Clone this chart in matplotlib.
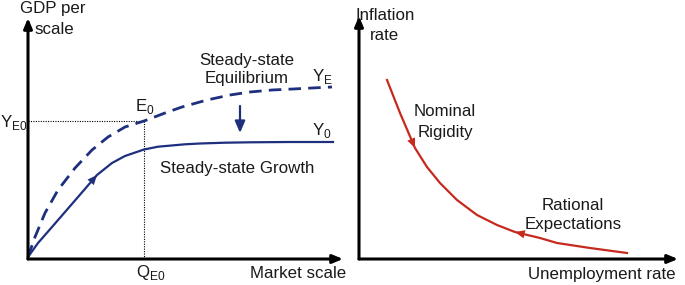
import matplotlib.pyplot as plt

# schematic, in pixel units (x right, y down)
# left panel: steady-state equilibrium (dashed) and growth (solid)
ye_x = [28, 35, 45, 58, 75, 92, 108, 125, 144, 165, 182, 207, 230, 250, 272, 293, 312, 332]
ye_y = [257, 237, 213, 190, 168, 150, 137, 127, 121, 113, 107, 100, 95, 92, 90, 89, 88, 87]
y0_x = [28, 38, 52, 65, 78, 97, 112, 125, 144, 158, 185, 200, 225, 250, 290, 333]
y0_y = [257, 243, 227, 212, 197, 175, 163, 156, 149.5, 146.7, 144.3, 143.5, 142.7, 142.3, 142, 142]
e0 = (144, 121)

# right panel: Phillips-type curve
pc_x = [387, 400, 415, 427, 440, 457, 477, 497, 515, 540, 557, 590, 627]
pc_y = [80, 113, 148, 167, 183, 200, 215, 225, 232, 238, 243, 248, 253]

blue = "#1e2f7e"
red = "#c62a1f"
fs = 12.2
font = "Liberation Sans"

fig = plt.figure(figsize=(6.85, 2.85), dpi=100)
ax = fig.add_axes([0, 0, 1, 1])
ax.set_xlim(0, 685)
ax.set_ylim(285, 0)
ax.axis("off")

def axis_arrow(x0, y0, x1, y1):
    ax.annotate("", xy=(x1, y1), xytext=(x0, y0),
                arrowprops=dict(arrowstyle="-|>,head_length=0.6,head_width=0.25",
                                color="black", lw=2.2, shrinkA=0, shrinkB=0))

def curve_arrow(xs, ys, i, color, back=False):
    # small head placed on the curve at point i
    if back:
        a, b = (xs[i + 1], ys[i + 1]), (xs[i], ys[i])
    else:
        a, b = (xs[i - 1], ys[i - 1]), (xs[i], ys[i])
    ax.annotate("", xy=b, xytext=a,
                arrowprops=dict(arrowstyle="-|>,head_length=0.7,head_width=0.3",
                                color=color, lw=0, shrinkA=0, shrinkB=0))

# left panel axes
axis_arrow(28, 259, 343, 259)
axis_arrow(28, 259, 28, 18)
# right panel axes
axis_arrow(359, 259, 678, 259)
axis_arrow(359, 259, 359, 16)

# dotted guides to E0
ax.plot([28, e0[0]], [e0[1], e0[1]], color="black", lw=0.8, ls=(0, (1, 1.2)))
ax.plot([e0[0], e0[0]], [e0[1], 259], color="black", lw=0.8, ls=(0, (1, 1.2)))

ax.plot(ye_x, ye_y, color=blue, lw=2, ls=(0, (4.5, 2.6)), solid_joinstyle="round")
ax.plot(y0_x, y0_y, color=blue, lw=1.6, solid_joinstyle="round")
curve_arrow(y0_x, y0_y, 5, blue)

# downward shift arrow
ax.annotate("", xy=(240, 133), xytext=(240, 106),
            arrowprops=dict(arrowstyle="-|>,head_length=0.7,head_width=0.3",
                            color=blue, lw=1.6, shrinkA=0, shrinkB=0))

ax.plot(pc_x, pc_y, color=red, lw=1.6, solid_joinstyle="round")
curve_arrow(pc_x, pc_y, 2, red)
curve_arrow(pc_x, pc_y, 8, red, back=True)

txt = dict(fontsize=fs, family=font, color="#1a1a1a")
ax.text(20, 9, "GDP per", ha="left", va="center", **txt)
ax.text(34, 30, "scale", ha="left", va="center", **txt)
ax.text(0, 123, r"Y$_{\mathregular{E0}}$", ha="left", va="center", **txt)
ax.text(135, 107, r"E$_{\mathregular{0}}$", ha="left", va="center", **txt)
ax.text(247, 60, "Steady-state", ha="center", va="center", **txt)
ax.text(247, 79, "Equilibrium", ha="center", va="center", **txt)
ax.text(312, 77, r"Y$_{\mathregular{E}}$", ha="left", va="center", **txt)
ax.text(312, 131, r"Y$_{\mathregular{0}}$", ha="left", va="center", **txt)
ax.text(160, 168, "Steady-state Growth", ha="left", va="center", **txt)
ax.text(136, 273, r"Q$_{\mathregular{E0}}$", ha="left", va="center", **txt)
ax.text(346, 273, "Market scale", ha="right", va="center", **txt)

ax.text(356, 15, "Inflation", ha="left", va="center", **txt)
ax.text(370, 35, "rate", ha="left", va="center", **txt)
ax.text(445, 112, "Nominal", ha="center", va="center", **txt)
ax.text(445, 132, "Rigidity", ha="center", va="center", **txt)
ax.text(573, 205, "Rational", ha="center", va="center", **txt)
ax.text(573, 224, "Expectations", ha="center", va="center", **txt)
ax.text(676, 274, "Unemployment rate", ha="right", va="center", **txt)

fig.savefig("out.png", dpi=100)
